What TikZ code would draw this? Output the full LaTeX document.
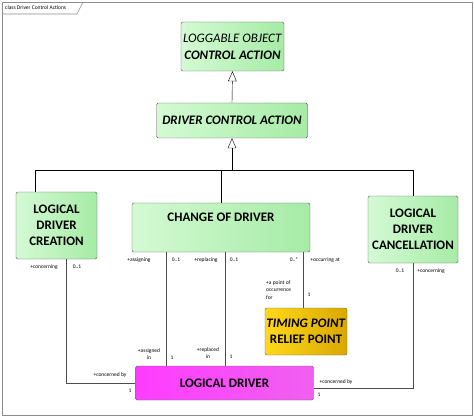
\documentclass[tikz,border=0pt]{standalone}
\usepackage{fontspec}
\setmainfont{Carlito}
\usetikzlibrary{arrows.meta}
\definecolor{grnL}{HTML}{D4FAD4}
\definecolor{grnR}{HTML}{A6EBA6}
\definecolor{magL}{HTML}{FF3CFF}
\definecolor{magR}{HTML}{F060F0}
\definecolor{goldL}{HTML}{FFD81A}
\definecolor{goldR}{HTML}{D9A800}
\begin{document}
\begin{tikzpicture}[x=1pt,y=-1pt,
    cls/.style={draw=black!65,rounded corners=1.5pt,align=center,inner sep=0pt,
      left color=grnL,right color=grnR,
      font=\bfseries\fontsize{13}{16}\selectfont},
    role/.style={inner sep=0pt,font=\fontsize{5.5}{7.5}\selectfont},
    gen/.style={-{Triangle[open,length=10pt,width=8.5pt]}},
    assoc/.style={draw=black!70,line width=0.6pt}]
  \useasboundingbox (0,0) rectangle (474,417);
  \draw[black!45,line width=0.8pt] (2,2) rectangle (472,415);
  \draw[black!45,line width=0.6pt] (2,14) -- (77,14) -- (83,2);
  \node[role,anchor=west] (title) at (5,8) {class Driver Control Actions};
  % classes
  \node[cls,minimum width=103pt,minimum height=49pt] (loggable) at (232.5,46.5)
    {\textmd{\textit{LOGGABLE OBJECT}}\\[1pt]\textit{CONTROL ACTION}};
  \node[cls,minimum width=151pt,minimum height=35pt] (dca) at (232,120.5)
    {\textit{DRIVER CONTROL ACTION}};
  \node[cls,minimum width=81pt,minimum height=67pt] (creation) at (56.5,225.5)
    {LOGICAL\\DRIVER\\CREATION};
  \node[cls,minimum width=178pt,minimum height=49pt,
    label={[anchor=north,yshift=-7pt,font=\bfseries\fontsize{13}{16}\selectfont]north:CHANGE OF DRIVER}]
    (change) at (221,227.5) {};
  \node[cls,minimum width=90pt,minimum height=67pt] (cancel) at (413,229.5)
    {LOGICAL\\DRIVER\\CANCELLATION};
  \node[cls,left color=goldL,right color=goldR,draw=black!60,
    minimum width=82pt,minimum height=47pt] (tp) at (306,331.5)
    {\textit{TIMING POINT}\\RELIEF POINT};
  \node[cls,left color=magL,right color=magR,draw=black!60,
    minimum width=178pt,minimum height=34pt] (ld) at (224.5,383)
    {LOGICAL DRIVER};
  % generalisations
  \coordinate (bar) at (232,170);
  \draw[gen] (dca.north) -- (loggable.south);
  \draw ([xshift=19pt]creation.north west) |- (bar);
  \draw (cancel.north) |- (bar);
  \draw (change.north) -- (change.north |- bar);
  \draw[gen] (bar) -- (dca.south);
  % associations
  \begin{scope}[assoc]
    \draw ([xshift=50pt]creation.south west) |- (ld.west);
    \draw ([xshift=34pt]change.south west) coordinate (asg) -- (asg |- ld.north);
    \draw ([xshift=93pt]change.south west) coordinate (rpl) -- (rpl |- ld.north);
    \draw ([xshift=-7pt]change.south east) coordinate (occ) -- (occ |- tp.north);
    \draw (cancel.south) |- ([yshift=-5pt]ld.east);
  \end{scope}
  % role names and multiplicities
  \draw
    (44,267) node[role] (r1) {+concerning}
    (77,267) node[role] (m1) {0..1}
    (139,260) node[role] (r2) {+assigning}
    (176,260) node[role] (m2) {0..1}
    (206,260) node[role] (r3) {+replacing}
    (234,260) node[role] (m3) {0..1}
    (294,260) node[role] (m4) {0..*}
    (325,260) node[role] (r4) {+occurring at}
    (266,290) node[role,anchor=west,align=left] (r5) {+a point of\\occurrence\\for}
    (309,295) node[role] (m5) {1}
    (149,354) node[role,align=center] (r6) {+assigned\\in}
    (172,358) node[role] (m6) {1}
    (208,353) node[role,align=center] (r7) {+replaced\\in}
    (231,357) node[role] (m7) {1}
    (110,375) node[role] (r8) {+concerned by}
    (130,391) node[role] (m8) {1}
    (336,382) node[role] (r9) {+concerned by}
    (319,395) node[role] (m9) {1}
    (400,271) node[role] (m10) {0..1}
    (431,271) node[role] (r10) {+concerning};
\end{tikzpicture}
\end{document}
